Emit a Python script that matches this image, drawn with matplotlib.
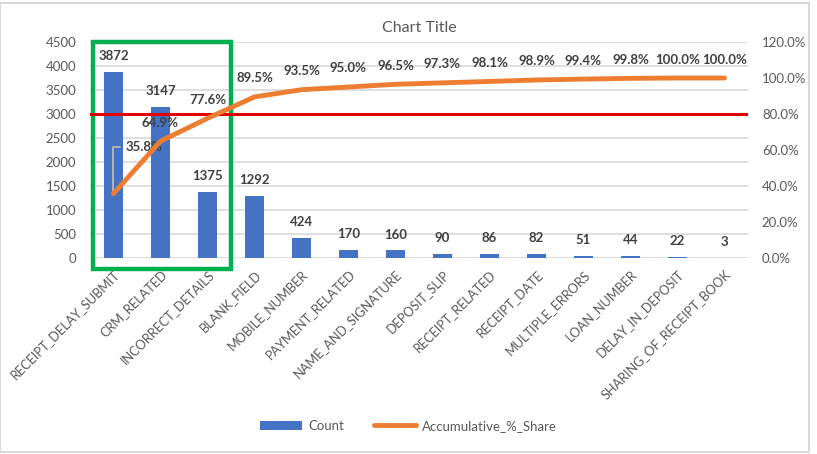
import matplotlib
matplotlib.use('Agg')
import matplotlib.pyplot as plt
from matplotlib.patches import Rectangle
from matplotlib.ticker import PercentFormatter

plt.rcParams['font.family'] = ['Lato', 'DejaVu Sans']

categories = ['RECEIPT_DELAY_SUBMIT', 'CRM_RELATED', 'INCORRECT_DETAILS', 'BLANK_FIELD',
              'MOBILE_NUMBER', 'PAYMENT_RELATED', 'NAME_AND_SIGNATURE', 'DEPOSIT_SLIP',
              'RECEIPT_RELATED', 'RECEIPT_DATE', 'MULTIPLE_ERRORS', 'LOAN_NUMBER',
              'DELAY_IN_DEPOSIT', 'SHARING_OF_RECEIPT_BOOK']
counts = [3872, 3147, 1375, 1292, 424, 170, 160, 90, 86, 82, 51, 44, 22, 3]
cum_share = [35.8, 64.9, 77.6, 89.5, 93.5, 95.0, 96.5, 97.3, 98.1, 98.9, 99.4, 99.8, 100.0, 100.0]
threshold = 80.0
left_ticks = list(range(0, 4501, 500))
right_ticks = [0, 20, 40, 60, 80, 100, 120]

grey_txt = '#595959'
lbl_txt = '#404040'
blue = '#4472C4'
orange = '#ED7D31'

fig = plt.figure(figsize=(8.17, 4.54), dpi=100)
ax = fig.add_axes([90/817, 1-258/454, (748-90)/817, (258-42)/454])
ax2 = ax.twinx()

x = list(range(len(categories)))
ax.bar(x, counts, width=0.42, color=blue, zorder=3, label='Count')
ax.set_xlim(-0.5, len(categories)-0.5)
ax.set_ylim(0, 4500)
ax.set_yticks(left_ticks)
ax.grid(axis='y', color='#D9D9D9', linewidth=1.2, zorder=0)
ax.set_axisbelow(True)
for s in ax.spines.values():
    s.set_visible(False)
for s in ax2.spines.values():
    s.set_visible(False)
ax.tick_params(axis='both', length=0, colors=grey_txt, labelsize=9.5)
ax.tick_params(axis='y', pad=10)
ax.tick_params(axis='x', pad=7)
ax.set_xticks(x)
ax.set_xticklabels(categories, rotation=45, ha='right', rotation_mode='anchor')
for lab in ax.get_xticklabels():
    lab.set_fontsize(9.2)

for xi, c in zip(x, counts):
    ax.annotate(str(c), (xi, c), xytext=(0, 7), textcoords='offset points',
                ha='center', va='bottom', fontsize=9.5, fontweight='bold', color=lbl_txt)

ax2.plot(x, cum_share, color=orange, linewidth=3.5, solid_capstyle='round', zorder=4,
         label='Accumulative_%_Share')
ax2.axhline(threshold, color='#E00000', linewidth=2.2, zorder=3)
ax2.set_ylim(0, 120)
ax2.set_yticks(right_ticks)
ax2.yaxis.set_major_formatter(PercentFormatter(decimals=1))
ax2.tick_params(axis='y', length=0, colors=grey_txt, labelsize=9.5, pad=10)

for xi, v in zip(x, cum_share):
    if xi == 0:
        # first label was dragged aside in the original, with a leader line
        ax2.annotate(f'{v:.1f}%', (xi, v), xytext=(xi + 0.26, v + 26),
                     textcoords='data', ha='left', va='center', fontsize=9.5,
                     fontweight='bold', color=lbl_txt,
                     arrowprops=dict(arrowstyle='-', color='#B4B4B4', lw=1.4,
                                     connectionstyle='angle,angleA=0,angleB=90,rad=0',
                                     shrinkA=2, shrinkB=0))
    else:
        ax2.annotate(f'{v:.1f}%', (xi, v), xytext=(0, 9), textcoords='offset points',
                     ha='center', va='bottom', fontsize=9.5, fontweight='bold', color=lbl_txt)

# green highlight box around the top three categories
box = Rectangle((-0.44, -220), 2.93, 4720, transform=ax.transData, fill=False,
                edgecolor='#00B050', linewidth=3.2, clip_on=False, zorder=5)
ax.add_patch(box)

ax.set_title('Chart Title', color=grey_txt, fontsize=11.5, pad=7)

h1, l1 = ax.get_legend_handles_labels()
h2, l2 = ax2.get_legend_handles_labels()
fig.legend(h1 + h2, l1 + l2, loc='center', bbox_to_anchor=(0.5, 1-426/454), ncol=2,
           frameon=False, fontsize=9.5, labelcolor=grey_txt, handlelength=3.2,
           handletextpad=0.5, columnspacing=2.2)

# chart area border
fig.add_artist(Rectangle((0, 2/454), 809/817, 449/454, transform=fig.transFigure,
                         fill=False, edgecolor='#D9D9D9', linewidth=1.5))

fig.savefig('out.png', dpi=100)
